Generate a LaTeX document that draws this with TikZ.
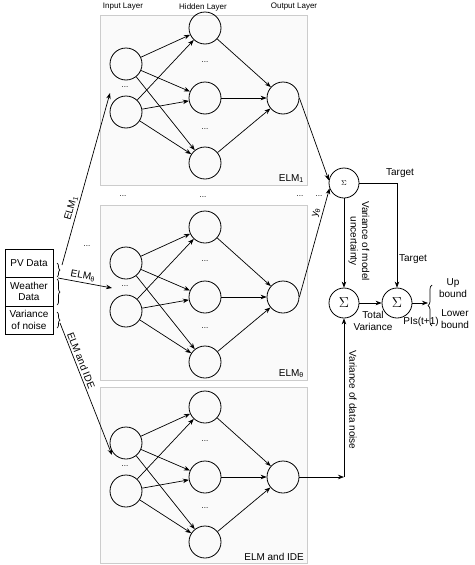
\documentclass[tikz,border=0pt]{standalone}
\usepackage{fontspec}
\setmainfont{Liberation Sans}
\usetikzlibrary{arrows.meta,decorations.pathreplacing}
\begin{document}
\begin{tikzpicture}[x=1pt,y=-1pt,
  neuron/.style={circle,draw,line width=0.8pt,minimum size=32pt,inner sep=0pt},
  sumnode/.style={circle,draw,line width=0.8pt,minimum size=30pt,inner sep=0pt},
  panel/.style={draw=gray!40,fill=gray!4,line width=0.7pt,minimum width=207pt},
  arr/.style={-{Stealth[length=6pt,width=4.5pt]},line width=0.7pt},
  dotsty/.style={font=\fontsize{8}{9}\selectfont,inner sep=0pt},
  hdr/.style={font=\fontsize{8}{9}\selectfont,inner sep=0pt},
  lbl/.style={font=\fontsize{10}{11.5}\selectfont,inner sep=1pt},
  slbl/.style={font=\fontsize{10}{11.5}\selectfont,inner sep=2pt},
  brc/.style={decorate,decoration={brace,amplitude=3pt},line width=0.7pt},
  boxsty/.style={draw,line width=0.8pt,minimum width=48pt,minimum height=28.5pt,inner sep=0pt,align=center,font=\fontsize{10}{11.5}\selectfont}
]
\useasboundingbox (0,0) rectangle (474,565);

% headers
\node[hdr] (hin) at (123,7) {Input Layer};
\node[hdr] (hhid) at (203,7) {Hidden Layer};
\node[hdr] (hout) at (294,7) {Output Layer};

% three ELM panels
\foreach \p/\m/\t/\b/\lab in {a/98/15/185/{ELM\textsubscript{1}}, b/297/205/380/{ELM\textsubscript{θ}}, c/477/387/563/{ELM and IDE}} {
  \node[panel, minimum height={(\b-\t)*1pt}] (\p box) at (203.5,{(\t+\b)/2}) {};
  \node[neuron] (\p i1) at (126,{\m-34}) {};
  \node[neuron] (\p i2) at (126,{\m+14}) {};
  \node[neuron] (\p h1) at (205,{\m-70}) {};
  \node[neuron] (\p h2) at (205,\m) {};
  \node[neuron] (\p h3) at (205,{\m+65}) {};
  \node[neuron] (\p o) at (283,\m) {};
  \node[dotsty] (\p di) at (125,{\m-11}) {...};
  \node[dotsty] (\p dh1) at (205,{\m-36}) {...};
  \node[dotsty] (\p dh2) at (205,{\m+31}) {...};
  \node[lbl, anchor=south east] (\p lab) at (305,{\b-1}) {\lab};
  \foreach \i in {1,2} {
    \foreach \h in {1,2,3} {
      \draw[arr] (\p i\i) -- (\p h\h);
    }
  }
  \foreach \h in {1,2,3} {
    \draw[arr] (\p h\h) -- (\p o);
  }
}

% dots between panels
\node[dotsty] (d1) at (123,196) {...};
\node[dotsty] (d2) at (203,197) {...};
\node[dotsty] (d3) at (300,196) {...};
\node[dotsty] (d4) at (319,196) {...};
\node[dotsty] (d5) at (87,246) {...};

% input data boxes
\node[boxsty, minimum height=28pt] (pv) at (29,263) {PV Data};
\node[boxsty, minimum height=29pt] (wd) at (29,291.5) {Weather\\Data};
\node[boxsty, minimum height=28pt] (vn) at (29,320) {Variance\\of noise};

% braces
\draw[brc] (57,263) -- (57,277);
\draw[brc] (57,279) -- (57,305);
\draw[brc] (57,312) -- (57,328);

% feeding arrows
\coordinate (j1) at (62,265);
\coordinate (j2) at (58,278);
\coordinate (j3) at (60,323);
\coordinate (e1) at (110,93);
\coordinate (e2) at (112,288);
\coordinate (e3) at (112,455);
\draw[arr] (j1) -- node[slbl, sloped, above, pos=0.32] {ELM\textsubscript{1}} (e1);
\draw[arr] (j2) -- node[slbl, sloped, above, pos=0.44] {ELM\textsubscript{θ}} (e2);
\draw[arr] (j3) -- node[slbl, sloped, above, pos=0.3] {ELM and IDE} (e3);

% summation nodes
\node[sumnode, font=\fontsize{7}{8}\selectfont] (s1) at (344,183) {$\Sigma$};
\node[sumnode, font=\fontsize{15}{16}\selectfont] (s2) at (344,303) {$\Sigma$};
\node[sumnode, font=\fontsize{15}{16}\selectfont] (s3) at (397,303) {$\Sigma$};

\draw[arr] (ao.east) -- (s1.170);
\draw[arr] (bo.east) -- node[slbl, sloped, above, pos=0.76] {y\textsubscript{θ}} (s1.200);

\draw[arr] (s1) -- (s2);
\node[lbl, rotate=-90, align=center] (vmu) at (359,241) {Variance of model\\uncertainty};

\draw[arr] (s1) -| (s3);
\node[lbl] (t1) at (400,173) {Target};
\node[lbl] (t2) at (413,259) {Target};

\draw[arr] (s2) -- (s3);
\node[lbl, align=center] (tv) at (373,321) {Total\\Variance};

\coordinate (bt) at (428,303);
\draw[arr] (s3) -- (bt);
\draw[decorate,decoration={brace,amplitude=4pt},line width=0.7pt] (432,326) -- (432,285);
\node[lbl, align=center] (up) at (453,288) {Up\\bound};
\node[lbl, align=center] (lo) at (455,319) {Lower\\bound};
\node[lbl] (pis) at (421,322) {PIs(t+1)};

% data noise path
\coordinate (cn) at (344,477);
\draw[arr] (co) -- (cn);
\draw[arr] (cn) -- (s2);
\node[lbl, rotate=-90] (vdn) at (353,400) {Variance of data noise};
\end{tikzpicture}
\end{document}
